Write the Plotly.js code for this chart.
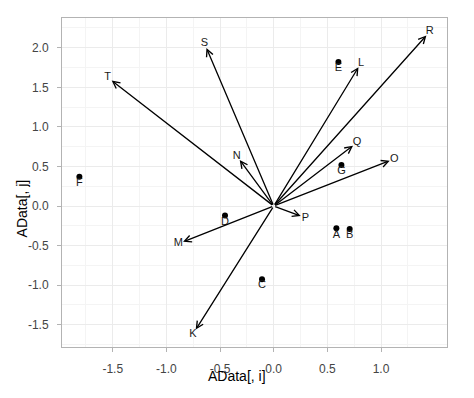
<!DOCTYPE html>
<html>
<head>
<meta charset="utf-8">
<script src="https://cdn.plot.ly/plotly-3.0.1.min.js"></script>
<style>html,body{margin:0;padding:0;background:#fff;}#plot{width:474px;height:398px;}</style>
</head>
<body>
<div id="plot"></div>
<script>
// Points (observations)
var pointNames = ['A', 'B', 'C', 'D', 'E', 'F', 'G'];
var pointX = [0.584, 0.708, -0.109, -0.454, 0.603, -1.811, 0.631];
var pointY = [-0.282, -0.291, -0.924, -0.118, 1.819, 0.371, 0.519];

// Arrows (variables), drawn from the origin
var arrowNames = ['K', 'L', 'M', 'N', 'O', 'P', 'Q', 'R', 'S', 'T'];
var arrowX = [-0.727, 0.790, -0.845, -0.317, 1.081, 0.252, 0.739, 1.423, -0.627, -1.510];
var arrowY = [-1.561, 1.755, -0.452, 0.582, 0.573, -0.127, 0.763, 2.156, 1.996, 1.586];

// Axis ticks
var xTickVals = [-1.5, -1.0, -0.5, 0.0, 0.5, 1.0];
var xTickText = ['-1.5', '-1.0', '-0.5', '0.0', '0.5', '1.0'];
var xMinorVals = [-1.75, -1.25, -0.75, -0.25, 0.25, 0.75, 1.25];
var yTickVals = [-1.5, -1.0, -0.5, 0.0, 0.5, 1.0, 1.5, 2.0];
var yTickText = ['-1.5', '-1.0', '-0.5', '0.0', '0.5', '1.0', '1.5', '2.0'];
var yMinorVals = [-1.75, -1.25, -0.75, -0.25, 0.25, 0.75, 1.25, 1.75, 2.25];

var xTitle = 'AData[, i]';
var yTitle = 'AData[, j]';

// Layout geometry
var W = 474, H = 398;
var margin = {l: 62, r: 27, t: 18, b: 51};
var xRange = [-1.973, 1.615];
var yRange = [-1.781, 2.376];
var pxPerX = (W - margin.l - margin.r) / (xRange[1] - xRange[0]);
var pxPerY = (H - margin.t - margin.b) / (yRange[1] - yRange[0]);

// label positions: a few pixels beyond each arrow tip, along the arrow
var labOff = 5;
var arrowLabX = [], arrowLabY = [];
for (var i = 0; i < arrowNames.length; i++) {
  var dx = arrowX[i] * pxPerX, dy = arrowY[i] * pxPerY;
  var len = Math.sqrt(dx * dx + dy * dy);
  arrowLabX.push(arrowX[i] + labOff * dx / len / pxPerX);
  arrowLabY.push(arrowY[i] + labOff * dy / len / pxPerY);
}
var pointLabY = pointY.map(function (v) { return v - 6.5 / pxPerY; });

var labelFont = {family: 'Liberation Sans, Arial, sans-serif', size: 11, color: '#1a1a1a'};

var traces = [
  {
    type: 'scatter', mode: 'markers', x: pointX, y: pointY,
    marker: {color: 'black', size: 6}, hoverinfo: 'skip', showlegend: false
  },
  {
    type: 'scatter', mode: 'text', x: pointX, y: pointLabY, text: pointNames,
    textposition: 'middle center', textfont: labelFont, hoverinfo: 'skip', showlegend: false
  },
  {
    type: 'scatter', mode: 'text', x: arrowLabX, y: arrowLabY, text: arrowNames,
    textposition: 'middle center', textfont: labelFont, hoverinfo: 'skip', showlegend: false
  }
];

var annotations = [];
for (var j = 0; j < arrowNames.length; j++) {
  annotations.push({
    x: arrowX[j], y: arrowY[j], xref: 'x', yref: 'y',
    ax: 0, ay: 0, axref: 'x', ayref: 'y',
    text: '', showarrow: true, arrowhead: 5, arrowsize: 1.05, arrowwidth: 1.3,
    arrowcolor: 'black', standoff: 0, startstandoff: 0
  });
}
annotations.push({
  text: xTitle, xref: 'paper', yref: 'paper', x: 0.4545, y: -0.088,
  xanchor: 'center', yanchor: 'middle', showarrow: false,
  font: {family: 'Liberation Sans, Arial, sans-serif', size: 14, color: 'black'}
});
annotations.push({
  text: yTitle, xref: 'paper', yref: 'paper', x: -0.103, y: 0.477, yshift: -18,
  xanchor: 'center', yanchor: 'middle', showarrow: false, textangle: -90,
  font: {family: 'Liberation Sans, Arial, sans-serif', size: 14, color: 'black'}
});

var axisCommon = {
  showline: true, linecolor: '#b3b3b3', linewidth: 1, mirror: true,
  ticks: 'outside', ticklen: 4, tickcolor: '#b3b3b3', tickwidth: 1,
  showgrid: true, gridcolor: '#ebebeb', gridwidth: 1, zeroline: false,
  tickfont: {family: 'Liberation Sans, Arial, sans-serif', size: 12, color: '#444444'},
  tickmode: 'array', fixedrange: true
};

var layout = {
  width: W, height: H, margin: margin,
  paper_bgcolor: 'white', plot_bgcolor: 'white', showlegend: false,
  xaxis: Object.assign({}, axisCommon, {
    range: xRange, tickvals: xTickVals, ticktext: xTickText, ticklabelstandoff: 7,
    minor: {tickmode: 'array', tickvals: xMinorVals, showgrid: true, gridcolor: '#f4f4f4', ticks: ''}
  }),
  yaxis: Object.assign({}, axisCommon, {
    range: yRange, tickvals: yTickVals, ticktext: yTickText, ticklabelstandoff: 6,
    minor: {tickmode: 'array', tickvals: yMinorVals, showgrid: true, gridcolor: '#f4f4f4', ticks: ''}
  }),
  annotations: annotations
};

Plotly.newPlot('plot', traces, layout, {displayModeBar: false, staticPlot: true});
</script>
</body>
</html>
